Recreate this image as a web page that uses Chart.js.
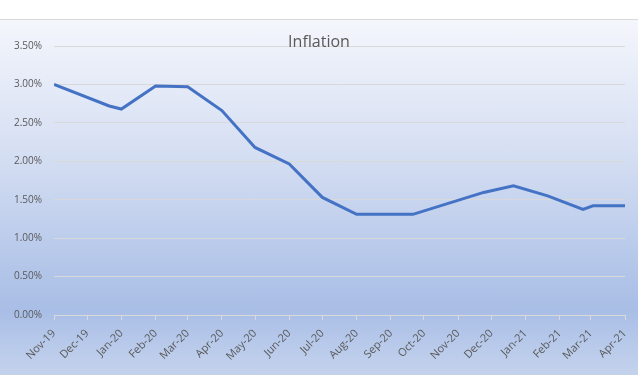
<!DOCTYPE html>
<html lang="en">
<head>
  <meta charset="UTF-8">
  <title>Inflation</title>
  <script src="https://cdn.jsdelivr.net/npm/chart.js"></script>
  <style>
    body { margin: 0; background: #fff; width: 638px; height: 375px; overflow: hidden; }
    .wrap { position: absolute; top: 19px; left: 0; width: 638px; height: 355px; border-top: 1px solid #d9d9d9;
            background: linear-gradient(to bottom, #f4f6fc 0%, #d3ddf2 40%, #b3c6e9 70%, #a9bee6 82%, #b6c8ea 90%, #c4d2ec 100%); }
    canvas { display: block; }
  </style>
</head>
<body>
  <div class="wrap">
    <canvas id="chart" width="638" height="355"></canvas>
  </div>
  <script>
    const obsDates = ['2019-11-01','2019-12-21','2020-01-01','2020-02-01','2020-03-01','2020-04-01','2020-05-01',
                      '2020-06-01','2020-07-01','2020-08-01','2020-09-21','2020-11-24','2020-12-21','2021-01-21',
                      '2021-02-22','2021-03-03','2021-04-01'];
    const inflation = [3.00, 2.72, 2.68, 2.98, 2.97, 2.66, 2.18, 1.965, 1.53, 1.31, 1.31, 1.595, 1.68, 1.55, 1.375, 1.42, 1.42];

    // month ticks on the date axis
    const tickDates = ['2019-11-01','2019-12-01','2020-01-01','2020-02-01','2020-03-01','2020-04-01','2020-05-01',
                       '2020-06-01','2020-07-01','2020-08-01','2020-09-01','2020-10-01','2020-11-01','2020-12-01',
                       '2021-01-01','2021-02-01','2021-03-01','2021-04-01'];
    const tickLabels = ['Nov-19','Dec-19','Jan-20','Feb-20','Mar-20','Apr-20','May-20','Jun-20','Jul-20','Aug-20',
                        'Sep-20','Oct-20','Nov-20','Dec-20','Jan-21','Feb-21','Mar-21','Apr-21'];
    const yTicks = [0, 0.5, 1, 1.5, 2, 2.5, 3, 3.5];

    const t = s => new Date(s).getTime();
    const tickTimes = tickDates.map(t);
    const points = obsDates.map((d, i) => ({ x: t(d), y: inflation[i] }));

    Chart.defaults.font.family = "'Open Sans', sans-serif";
    Chart.defaults.font.size = 10;
    Chart.defaults.color = '#595959';

    // title sits inside the plot like in Excel
    const overlayTitle = {
      id: 'overlayTitle',
      afterDraw(chart) {
        const c = chart.ctx;
        c.save();
        c.font = "16px 'Open Sans', sans-serif";
        c.fillStyle = '#595959';
        c.textAlign = 'center';
        c.textBaseline = 'middle';
        c.fillText('Inflation', 319, 22);
        c.restore();
      }
    };

    new Chart(document.getElementById('chart'), {
      type: 'line',
      data: {
        datasets: [{
          label: 'Inflation',
          data: points,
          borderColor: '#4472c4',
          borderWidth: 3,
          pointRadius: 0,
          tension: 0,
          fill: false
        }]
      },
      options: {
        responsive: false,
        animation: false,
        layout: { padding: { top: 26, right: 13, left: 0, bottom: 0 } },
        plugins: { legend: { display: false }, tooltip: { enabled: false } },
        scales: {
          x: {
            type: 'linear',
            min: tickTimes[0],
            max: tickTimes[tickTimes.length - 1],
            afterBuildTicks: s => { s.ticks = tickTimes.map(v => ({ value: v })); },
            afterFit: s => { s.height = 60; s.paddingLeft = 0; s.paddingRight = 0; },
            ticks: {
              autoSkip: false, minRotation: 45, maxRotation: 45, padding: 7,
              font: { size: 11 },
              callback: v => tickLabels[tickTimes.indexOf(v)]
            },
            grid: { drawOnChartArea: false, drawTicks: true, tickLength: 5, color: '#d9d9d9' },
            border: { display: true, color: '#d9d9d9' }
          },
          y: {
            min: 0, max: 3.5,
            afterBuildTicks: s => { s.ticks = yTicks.map(v => ({ value: v })); },
            afterFit: s => { s.width = 54; },
            ticks: { padding: 12, callback: v => v.toFixed(2) + '%' },
            grid: { color: '#d9d9d9', drawTicks: false },
            border: { display: false }
          }
        }
      },
      plugins: [overlayTitle]
    });
  </script>
</body>
</html>
